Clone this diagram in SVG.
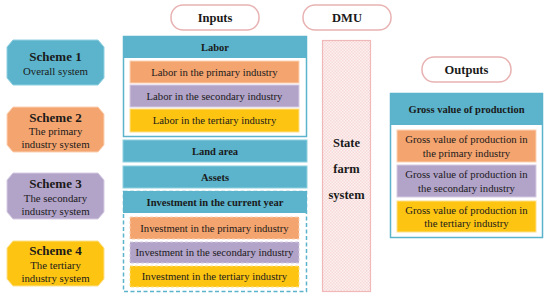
<svg xmlns="http://www.w3.org/2000/svg" width="550" height="299" viewBox="0 0 550 299" font-family="'Liberation Serif', 'Times New Roman', serif">
<defs>
<pattern id="chk" width="3" height="3" patternUnits="userSpaceOnUse">
<rect width="3" height="3" fill="#fdf1f1"/>
<rect width="1.5" height="1.5" fill="#f7d9d9"/>
<rect x="1.5" y="1.5" width="1.5" height="1.5" fill="#f7d9d9"/>
</pattern>
</defs>
<style>
text{font-family:'Liberation Serif','Times New Roman',serif;fill:#1a1a1a;text-anchor:middle}
.pill{fill:#fff;stroke:#e8b2b2;stroke-width:1.5}
.pt{font-size:12.5px;font-weight:bold}
.hd{fill:#5bb4cc;stroke:#8fd0e0;stroke-width:1}
.ht{font-size:10.5px;font-weight:bold}
.it{font-size:10.7px}
.or{fill:#f4a46f;stroke:#fbd2b6;stroke-width:1}
.pu{fill:#b2a3c9;stroke:#d6cce3;stroke-width:1}
.ye{fill:#fdc412;stroke:#fde08a;stroke-width:1}
.sc{font-size:13px;font-weight:bold}
.st{font-size:10.8px}
</style>
<g id="pill-inputs"><rect class="pill" x="171" y="5" width="88" height="25" rx="12"/><text class="pt" x="215" y="22">Inputs</text></g>
<g id="pill-dmu"><rect class="pill" x="303" y="5" width="88" height="25" rx="12"/><text class="pt" x="347" y="22">DMU</text></g>
<g id="pill-outputs"><rect class="pill" x="422" y="57" width="89" height="25" rx="12"/><text class="pt" x="466.5" y="74">Outputs</text></g>

<g id="scheme1"><polygon points="13,40 98,40 104,47 104,78 98,85 13,85 7,78 7,47" fill="#5bb4cc" stroke="#8fd0e0" stroke-width="1"/><text class="sc" x="55.5" y="60.5">Scheme 1</text><text class="st" x="55.5" y="74.7">Overall system</text></g>
<g id="scheme2"><polygon points="13,107 98,107 104,114 104,145 98,152 13,152 7,145 7,114" fill="#f4a46f" stroke="#fbd2b6" stroke-width="1"/><text class="sc" x="55.5" y="121.5">Scheme 2</text><text class="st" x="55.5" y="134.7">The primary</text><text class="st" x="55.5" y="147.7">industry system</text></g>
<g id="scheme3"><polygon points="13,173 98,173 104,180 104,212 98,219 13,219 7,212 7,180" fill="#b2a3c9" stroke="#d6cce3" stroke-width="1"/><text class="sc" x="55.5" y="188">Scheme 3</text><text class="st" x="55.5" y="201.7">The secondary</text><text class="st" x="55.5" y="214.7">industry system</text></g>
<g id="scheme4"><polygon points="13,241 98,241 104,248 104,279 98,286 13,286 7,279 7,248" fill="#fdc412" stroke="#fde08a" stroke-width="1"/><text class="sc" x="55.5" y="255">Scheme 4</text><text class="st" x="55.5" y="268.7">The tertiary</text><text class="st" x="55.5" y="281.7">industry system</text></g>

<g id="labor">
<rect x="123.5" y="36.5" width="183" height="100" fill="#fff" stroke="#5bb4cc" stroke-width="1.5"/>
<rect x="123" y="36" width="184" height="22" fill="#5bb4cc"/>
<text class="ht" x="215" y="50.7">Labor</text>
<rect class="or" x="130" y="61" width="169" height="22"/><text class="it" x="214.5" y="75.7">Labor in the primary industry</text>
<rect class="pu" x="130" y="85" width="169" height="22"/><text class="it" x="214.5" y="99.7">Labor in the secondary industry</text>
<rect class="ye" x="130" y="109" width="169" height="23"/><text class="it" x="214.5" y="124.2">Labor in the tertiary industry</text>
</g>
<g id="land"><rect class="hd" x="123" y="140" width="184" height="22"/><text class="ht" x="215" y="154.7">Land area</text></g>
<g id="assets"><rect class="hd" x="123" y="166" width="184" height="22"/><text class="ht" x="215" y="180.7">Assets</text></g>
<g id="investment">
<rect x="123.5" y="191.5" width="183" height="100" fill="#fff" stroke="#5bb4cc" stroke-width="1.5" stroke-dasharray="4,2.5"/>
<rect x="123" y="191" width="184" height="22" fill="#5bb4cc"/>
<text class="ht" x="215" y="205.7">Investment in the current year</text>
<rect x="130" y="217" width="169" height="22" fill="#f4a46f" stroke="#fbd2b6" stroke-dasharray="3,2"/><text class="it" x="214.5" y="231.7">Investment in the primary industry</text>
<rect x="130" y="242" width="169" height="21" fill="#b2a3c9" stroke="#d6cce3" stroke-dasharray="3,2"/><text class="it" x="214.5" y="256.2">Investment in the secondary industry</text>
<rect x="130" y="266" width="169" height="21" fill="#fdc412" stroke="#fde08a" stroke-dasharray="3,2"/><text class="it" x="214.5" y="280.2">Investment in the tertiary industry</text>
</g>

<g id="dmu"><rect x="322.5" y="40.5" width="48" height="251" fill="url(#chk)" stroke="#f0b8b8" stroke-width="1.2"/>
<text class="pt" x="346.5" y="146.5">State</text><text class="pt" x="346.5" y="172.5">farm</text><text class="pt" x="346.5" y="198.5">system</text></g>

<g id="outputs">
<rect x="390.5" y="93.5" width="152" height="144" fill="#fff" stroke="#5bb4cc" stroke-width="1.5"/>
<rect x="390" y="93" width="153" height="32" fill="#5bb4cc"/>
<text class="ht" x="466.5" y="112.7">Gross value of production</text>
<rect class="or" x="397" y="130" width="139" height="32"/><text class="it" x="466.5" y="143.2">Gross value of production in</text><text class="it" x="466.5" y="156.7">the primary industry</text>
<rect class="pu" x="397" y="165" width="139" height="32"/><text class="it" x="466.5" y="178.2">Gross value of production in</text><text class="it" x="466.5" y="191.7">the secondary industry</text>
<rect class="ye" x="397" y="201" width="139" height="31"/><text class="it" x="466.5" y="213.7">Gross value of production in</text><text class="it" x="466.5" y="227.2">the tertiary industry</text>
</g>
<g id="connectors"/>
</svg>
